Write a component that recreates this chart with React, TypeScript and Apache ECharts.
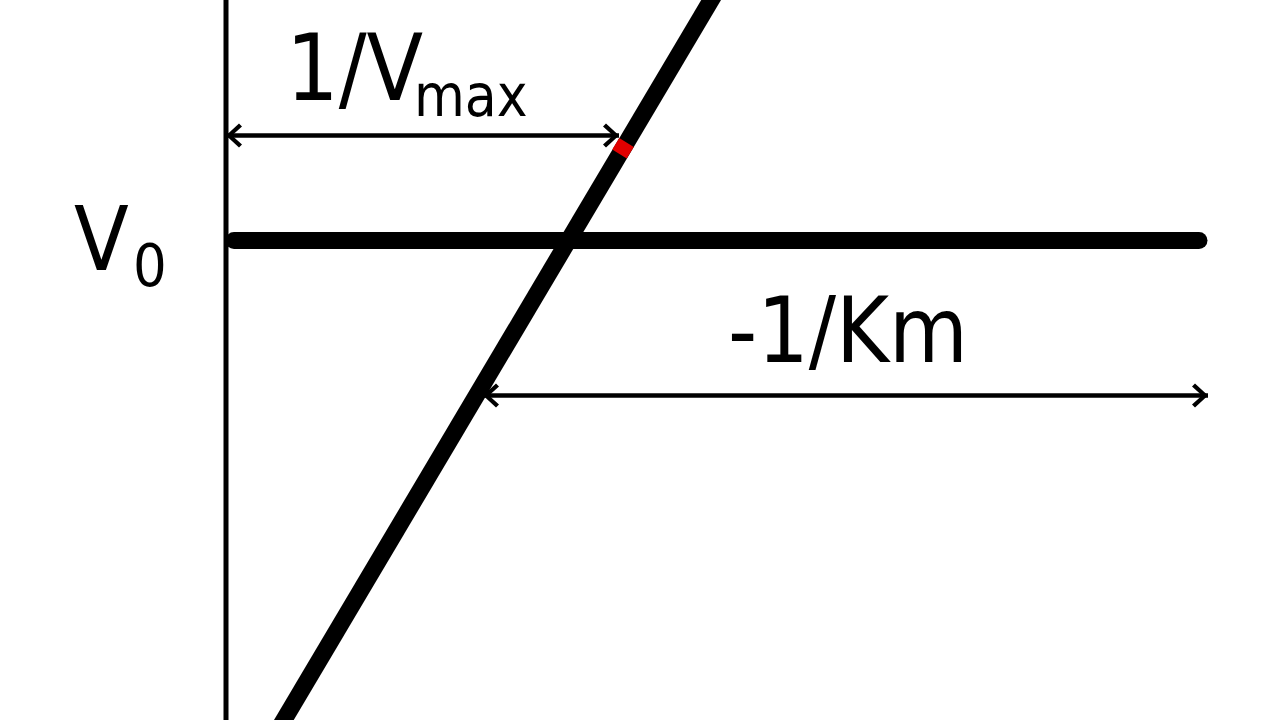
import React, { useEffect, useRef } from 'react';
import * as echarts from 'echarts';

// coordinates are in picture units: x to the right, y downward (0..1280 x 0..720)
const yAxisLine = [[226, -10], [226, 730]];
const v0Line = [[234, 240.5], [1199, 240.5]];
const plotLine = [[723, -20], [272, 740]];
const redMark = [[619.5, 154], [626.5, 142.5]];
const vmaxArrow = [[226, 135.5], [619, 135.5]];
const kmArrow = [[483, 395.5], [1208, 395.5]];

const FONT = "'DejaVu Sans Condensed', 'DejaVu Sans', sans-serif";

// open chevron, tip pointing up, tip centred in its box
const CHEVRON =
  'path://M12,1 L12.01,1 L12,1.01 Z M12,17 L24,30 L21,33 L12,23 L3,33 L0,30 Z';

const App: React.FC = () => {
  const chartRef = useRef<HTMLDivElement>(null);

  useEffect(() => {
    if (!chartRef.current) return;
    const chart = echarts.init(chartRef.current, undefined, { renderer: 'svg' });

    const lineSeries = (name: string, data: number[][], width: number, color = '#000', cap = 'butt') => ({
      name,
      type: 'line',
      data,
      symbol: 'none',
      silent: true,
      clip: true,
      lineStyle: { color, width, cap },
      emphasis: { disabled: true },
    });

    const arrow = (pts: number[][]) => [{ coord: pts[0] }, { coord: pts[1] }];

    const text = (t: string, x: number, y: number, size: number) => ({
      type: 'text',
      x,
      y,
      silent: true,
      style: {
        text: t,
        fill: '#000',
        font: `${size}px ${FONT}`,
        align: 'left',
        verticalAlign: 'middle',
      },
    });

    chart.setOption({
      animation: false,
      backgroundColor: '#fff',
      grid: { left: 0, right: 0, top: 0, bottom: 0 },
      xAxis: { type: 'value', min: 0, max: 1280, show: false },
      yAxis: { type: 'value', min: 0, max: 720, inverse: true, show: false },
      series: [
        {
          ...lineSeries('axis', yAxisLine, 5),
          markLine: {
            silent: true,
            symbol: [CHEVRON, CHEVRON],
            symbolSize: [24, 32],
            label: { show: false },
            emphasis: { disabled: true },
            lineStyle: { color: '#000', width: 4.5, type: 'solid' },
            itemStyle: { color: '#000' },
            data: [arrow(vmaxArrow), arrow(kmArrow)],
          },
        },
        lineSeries('V0', v0Line, 17, '#000', 'round'),
        lineSeries('plot', plotLine, 17),
        lineSeries('mark', redMark, 17, '#e00000'),
      ],
      graphic: [
        text('1/V', 286, 68, 92),
        text('max', 414, 96, 58),
        text('V', 74, 239, 89),
        text('0', 133, 265, 59),
        text('-1/Km', 728, 330, 90),
      ],
    });

    return () => chart.dispose();
  }, []);

  return (
    <div
      ref={chartRef}
      style={{ position: 'fixed', left: 0, top: 0, width: '1280px', height: '720px' }}
    />
  );
};

export default App;
